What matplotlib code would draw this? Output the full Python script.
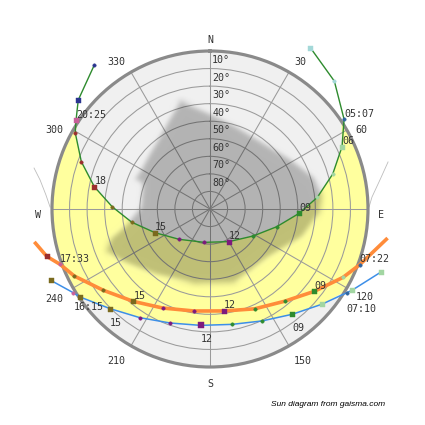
import numpy as np
import matplotlib
matplotlib.use("Agg")
import matplotlib.pyplot as plt

# ---------------- data: azimuth (deg, clockwise from N) and altitude (deg) ----------------
summer_az = [321.2, 309.6, 303.6, 299.5, 290.2, 280.9, 271.3, 260.4, 246.7, 225.7, 190.2,
             149.8, 122.0, 104.9, 92.8, 83.8, 74.1, 64.7, 56.2, 44.2, 31.9]
summer_alt = [-15.2, -7.4, -1.6, 1.8, 11.9, 22.9, 34.3, 44.8, 55.9, 65.3, 70.7,
              68.5, 61.0, 50.7, 39.2, 28.5, 17.3, 6.8, -1.9, -11.6, -18.2]
summer_hours = ['22', '21', '20:25', '20', '19', '18', '17', '16', '15', '14', '13',
                '12', '11', '10', '09', '08', '07', '06', '05:07', '04', '03']

today_az = [259.4, 253.8, 249.8, 243.7, 232.7, 219.7, 205.5, 188.9, 172.3, 155.9, 141.0,
            128.3, 117.2, 110.4, 99.3]
today_alt = [-11.8, -6.8, -1.1, 3.8, 13.6, 21.6, 27.5, 31.2, 31.4, 27.7, 22.4,
             14.3, 4.8, -1.0, -12.5]
today_hours = ['19', '18', '17:33', '17', '16', '15', '14', '13', '12', '11', '10',
               '09', '08', '07:22', '06']

winter_az = [245.8, 238.5, 235.8, 225.1, 212.9, 199.3, 184.6, 169.2, 155.1, 142.0, 130.4,
             121.5, 119.8, 110.3]
winter_alt = [-9.3, -1.3, 0.7, 9.6, 16.3, 21.2, 23.5, 23.1, 19.7, 13.9, 6.3,
              -1.3, -3.2, -13.7]
winter_hours = ['17', '16:15', '16', '15', '14', '13', '12', '11', '10', '09', '08',
                '07:10', '07', '06']

shadow_az = [344.6, 358.8, 16.6, 35.9, 57.5, 73.0, 82.9, 92.1, 106.8, 130.2, 161.3, 191.3,
             219.8, 238.9, 247.5, 253.8, 258.8, 271.6, 290.9, 290.6, 299.1, 311.1, 322.5, 333.7]
shadow_alt = [25.6, 34.7, 40.1, 41.5, 36.0, 27.5, 25.7, 27.3, 34.7, 46.8, 45.5, 46.4,
              41.1, 31.5, 25.9, 30.7, 40.1, 50.1, 48.5, 43.1, 44.4, 43.2, 40.4, 34.7]

west_faint_az = [283.1, 279.7, 274.9, 270.7]
west_faint_alt = [-12.9, -8.2, -3.8, -1.1]
east_faint_az = [75.2, 80.3, 85.8, 89.3]
east_faint_alt = [-14.9, -8.2, -2.5, -0.6]

ring_alts = [10, 20, 30, 40, 50, 60, 70, 80]
azimuth_ticks = [0, 30, 60, 90, 120, 150, 180, 210, 240, 270, 300, 330]
azimuth_labels = ['N', '30', '60', 'E', '120', '150', 'S', '210', '240', 'W', '300', '330']

# ---------------- styles ----------------
summer_kind = "dssddsddsddsddsddsdds"
today_kind = "nsdddsddsddsddn"
winter_kind = "sdssddSddssdss"

MONO = 'DejaVu Sans Mono'
TXT = '#333333'
FS = 7.2


def hour_color(h):
    if ':' in h:
        return '#2f65a0' if int(h[:2]) < 12 else '#c8609a'
    hh = int(h)
    if hh <= 4:
        return '#a3d8d8'
    if hh <= 8:
        return '#a2d6a2'
    if hh <= 11:
        return '#2e8b2e'
    if hh <= 14:
        return '#7d1a7d'
    if hh <= 17:
        return '#7a6a1e'
    if hh <= 20:
        return '#9a2e2e'
    return '#2b3590'


def zd(alt):
    return 90.0 - np.asarray(alt, dtype=float)


def gaussian_blur(sigma):
    def _f(im, dpi):
        pad = int(np.ceil(3 * sigma))
        a = np.pad(im, ((pad, pad), (pad, pad), (0, 0)))
        xs = np.arange(-pad, pad + 1)
        k = np.exp(-0.5 * (xs / sigma) ** 2)
        k /= k.sum()
        out = np.zeros_like(a)
        for i, w in zip(xs, k):
            out += w * np.roll(a, i, axis=0)
        a = out
        out = np.zeros_like(a)
        for i, w in zip(xs, k):
            out += w * np.roll(a, i, axis=1)
        return out, -pad, -pad
    return _f


fig = plt.figure(figsize=(4.25, 4.25), dpi=100)
fig.patch.set_facecolor('white')
cx, cy, R = 210 / 425, 1 - 209 / 425, 158 / 425
ax = fig.add_axes([cx - R, cy - R, 2 * R, 2 * R], projection='polar')
ax.set_theta_zero_location('N')
ax.set_theta_direction(-1)
ax.set_ylim(0, 90)
ax.set_facecolor('#f0f0f0')
ax.set_xticks(np.radians(azimuth_ticks))
ax.set_xticklabels([])
ax.set_yticks(zd(ring_alts))
ax.set_yticklabels([])
ax.tick_params(length=0)
ax.grid(True, color='#9a9a9a', lw=0.75)
ax.spines['polar'].set_color('#8a8a8a')
ax.spines['polar'].set_linewidth(2.3)

# yellow band between summer and winter paths (clipped to horizon)
arc1 = np.linspace(summer_az[-1], winter_az[-1], 60)
arc2 = np.linspace(winter_az[0], summer_az[0], 60)
band_t = np.radians(np.concatenate([summer_az, arc1, winter_az[::-1], arc2]))
band_r = np.concatenate([np.minimum(zd(summer_alt), 90), np.full(60, 90.0),
                         np.minimum(zd(winter_alt), 90)[::-1], np.full(60, 90.0)])
ax.fill(band_t, band_r, color='#ffff9e', lw=0, zorder=1)

# blurred grey shadow
sh = ax.fill(np.radians(shadow_az), zd(shadow_alt), color='black', alpha=0.25,
             lw=0, zorder=1.7)[0]
sh.set_agg_filter(gaussian_blur(3.0))

# faint lines outside the horizon
for a, h in [(west_faint_az, west_faint_alt), (east_faint_az, east_faint_alt)]:
    ax.plot(np.radians(a), zd(h), color='#bdbdbd', lw=0.6, clip_on=False, zorder=1.2)

# sun paths
curves = [
    (summer_az, summer_alt, summer_hours, summer_kind, '#2e8b2e', 1.0, 1.8),
    (winter_az, winter_alt, winter_hours, winter_kind, '#3d8fe8', 1.1, -12.3),
    (today_az, today_alt, today_hours, today_kind, '#ff8c3a', 2.6, 1.8),
]
sizes = {'d': 2.5, 's': 3.6, 'S': 4.8}
for az, alt, hours, kind, col, lw, dy in curves:
    th = np.radians(az)
    r = zd(alt)
    ax.plot(th, r, color=col, lw=lw, clip_on=False, zorder=3, solid_capstyle='butt')
    for t, rr, h, k, a in zip(th, r, hours, kind, alt):
        if k != 'n':
            c = hour_color(h)
            m = 'o' if k == 'd' else 's'
            ax.plot([t], [rr], ls='none', marker=m, ms=sizes[k], mfc=c, mec=c,
                    mew=0.3, clip_on=False, zorder=4)
        if ':' in h or (int(h) % 3 == 0 and a > 0):
            extra = -1.6 if (dy < 0 and ':' in h and int(h[:2]) < 12) else 0
            ax.annotate(h, (t, rr), xytext=(0, dy + extra), textcoords='offset points',
                        ha='left', va='baseline', fontsize=FS, family=MONO,
                        color=TXT, annotation_clip=False, zorder=5)

# altitude ring labels
for a in ring_alts:
    ax.annotate(f'{a}\u00b0', (0, 90 - a), xytext=(1.5, 6.1), textcoords='offset points',
                ha='left', va='center', fontsize=FS, family=MONO, color=TXT,
                annotation_clip=False, zorder=5)

# azimuth labels
for az, lab in zip(azimuth_ticks, azimuth_labels):
    if az in (0, 180):
        ha = 'center'
    elif az < 180:
        ha = 'left'
    else:
        ha = 'right'
    if np.cos(np.radians(az)) > 0.8:
        va, off = 'center', (0, 0)
    else:
        va, off = 'top', (-0.7 if ha == 'left' else 0, -0.5)
    if lab == '120':
        off = (off[0], 0.9)
    ax.annotate(lab, (np.radians(az), 96.5), xytext=off, textcoords='offset points',
                ha=ha, va=va, fontsize=FS, family=MONO, color=TXT,
                annotation_clip=False, zorder=5)

fig.text(328.5 / 425, 1 - 404 / 425, 'Sun diagram from gaisma.com', fontsize=6,
         style='italic', family='Liberation Sans', ha='center', va='center', color='black')

fig.savefig('out.png', dpi=100, facecolor='white')
